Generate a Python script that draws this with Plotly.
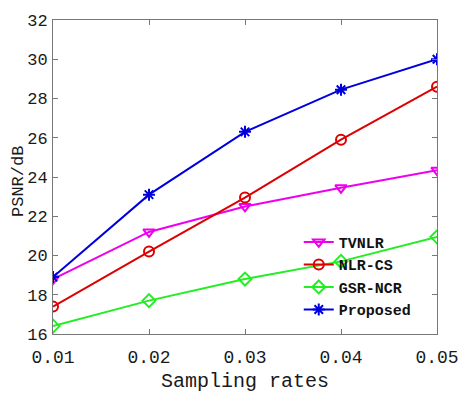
import plotly.graph_objects as go

rates = [0.01, 0.02, 0.03, 0.04, 0.05]
tvnlr = [18.8, 21.2, 22.5, 23.45, 24.35]
nlr_cs = [17.4, 20.2, 22.95, 25.9, 28.6]
gsr_ncr = [16.4, 17.7, 18.8, 19.7, 20.95]
proposed = [18.9, 23.1, 26.3, 28.45, 30.0]

x_ticks = [0.01, 0.02, 0.03, 0.04, 0.05]
x_ticklabels = ["0.01", "0.02", "0.03", "0.04", "0.05"]
y_ticks = [16, 18, 20, 22, 24, 26, 28, 30, 32]

series = [
    ("TVNLR", tvnlr, "#ee00ee", "triangle-down-open"),
    ("NLR-CS", nlr_cs, "#dd0000", "circle-open"),
    ("GSR-NCR", gsr_ncr, "#22ee22", "diamond-open"),
    ("Proposed", proposed, "#0000dd", "asterisk-open"),
]

fig = go.Figure()
for name, vals, color, sym in series:
    fig.add_trace(go.Scatter(
        x=rates, y=vals, name=name, mode="lines+markers",
        line=dict(color=color, width=2),
        marker=dict(symbol=sym, size=10, color=color, line=dict(color=color, width=2)),
    ))

font_fam = "Liberation Mono"
fig.update_layout(
    width=466, height=386,
    margin=dict(l=45, r=37, t=12, b=60),
    paper_bgcolor="white", plot_bgcolor="white",
    font=dict(family=font_fam, size=18, color="#1a1a1a"),
    showlegend=True,
    legend=dict(
        x=0.64, y=0.345, xanchor="left", yanchor="top",
        bgcolor="rgba(0,0,0,0)", borderwidth=0,
        font=dict(family=font_fam, size=15, color="#111111", weight="bold"),
        tracegroupgap=0, itemwidth=30,
    ),
    xaxis=dict(
        range=[0.01, 0.05], tickvals=x_ticks, ticktext=x_ticklabels,
        ticks="inside", ticklen=5, tickcolor="#777777",
        showline=True, linecolor="#777777", linewidth=1, mirror="ticks",
        showgrid=False, zeroline=False, ticklabelstandoff=6,
        automargin=False,
        title=dict(text="Sampling rates", font=dict(size=20), standoff=6),
    ),
    yaxis=dict(
        range=[16, 32], tickvals=y_ticks,
        ticks="inside", ticklen=5, tickcolor="#777777",
        showline=True, linecolor="#777777", linewidth=1, mirror="ticks",
        showgrid=False, zeroline=False, ticklabelstandoff=1,
        tickfont=dict(size=17),
        automargin=False,
    ),
    annotations=[dict(
        text="PSNR/dB", textangle=-90, showarrow=False,
        xref="paper", yref="paper", x=0, y=0.5,
        xanchor="center", yanchor="middle", xshift=-35, yshift=-5,
        font=dict(family=font_fam, size=17, color="#1a1a1a"),
    )],
)

fig.write_html("out.html")
